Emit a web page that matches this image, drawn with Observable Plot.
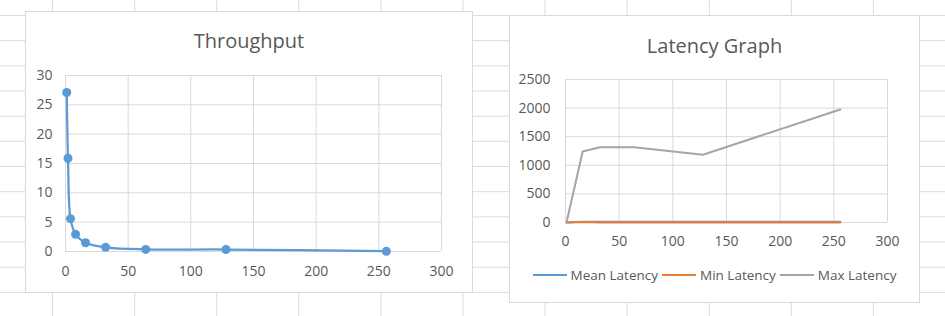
<!DOCTYPE html>
<html>
<head>
<meta charset="utf-8">
<script src="https://cdn.jsdelivr.net/npm/d3@7"></script>
<script src="https://cdn.jsdelivr.net/npm/@observablehq/plot@0.6"></script>
<style>
  html, body { margin: 0; padding: 0; background: #fff; }
  #page {
    position: relative; width: 945px; height: 316px; overflow: hidden;
    background-color: #fff;
    background-image:
      linear-gradient(to right, #dadada 1px, transparent 1px),
      linear-gradient(to bottom, #dadada 1px, transparent 1px);
    background-size: 82.1px 25.18px;
    background-position: 52px 15px;
    font-family: "Open Sans", sans-serif;
    color: #595959;
  }
  .box { position: absolute; background: #fff; border: 1px solid #d9d9d9; box-sizing: border-box; }
  .title { position: absolute; left: 0; right: 0; text-align: center; font-size: 20px; color: #595959; white-space: nowrap; }
  .plot { position: absolute; }
  .legend { position: absolute; left: 0; right: 0; display: flex; justify-content: center; align-items: center; font-size: 13.5px; color: #595959; white-space: nowrap; }
  .legend .item { display: flex; align-items: center; margin: 0 2px; }
  .legend .sw { width: 34px; height: 2px; margin-right: 4px; }
</style>
</head>
<body>
<div id="page">
  <div class="box" id="box1" style="left:25px; top:11px; width:448px; height:282px;">
    <div class="title" style="top:15px;">Throughput</div>
  </div>
  <div class="box" id="box2" style="left:509px; top:15px; width:411px; height:288px;">
    <div class="title" style="top:16px;">Latency Graph</div>
    <div class="legend" id="legend" style="top:250px;"></div>
  </div>
  <div class="plot" id="plot1" style="left:26px; top:56px;"></div>
  <div class="plot" id="plot2" style="left:510px; top:60px;"></div>
</div>
<script>
// ---- Data ----
const threads = [1, 2, 4, 8, 16, 32, 64, 128, 256];
const throughput = [27.1, 15.9, 5.6, 2.95, 1.5, 0.72, 0.36, 0.34, 0.05];

const latencyThreads = [1, 16, 32, 64, 128, 256];
const meanLatency = [1, 12, 11, 12, 12, 13];
const minLatency = [0.5, 10, 1, 1, 1, 1];
const maxLatency = [5, 1240, 1315, 1315, 1185, 1975];

const seriesNames = ["Mean Latency", "Min Latency", "Max Latency"];
const seriesColors = ["#5B9BD5", "#ED7D31", "#A5A5A5"];

const xTicks = [0, 50, 100, 150, 200, 250, 300];
const yTicksThroughput = [0, 5, 10, 15, 20, 25, 30];
const yTicksLatency = [0, 500, 1000, 1500, 2000, 2500];

// ---- Tables ----
const tpData = threads.map((t, i) => ({x: t, y: throughput[i]}));
const latSeries = [meanLatency, minLatency, maxLatency];
const latData = latSeries.flatMap((vals, s) =>
  latencyThreads.map((t, i) => ({x: t, y: vals[i], series: seriesNames[s]})));

const baseStyle = {fontFamily: "'Open Sans', sans-serif", fontSize: "14px", color: "#595959", background: "transparent", overflow: "visible"};
const gridStyle = {stroke: "#d9d9d9", strokeOpacity: 1, strokeWidth: 1};
const fmt = d => String(d);

const p1 = Plot.plot({
  width: 440, height: 230,
  marginLeft: 39, marginRight: 25, marginTop: 19, marginBottom: 35,
  style: baseStyle,
  x: {domain: [0, 300]},
  y: {domain: [0, 30]},
  marks: [
    Plot.gridX(xTicks, gridStyle),
    Plot.gridY(yTicksThroughput, gridStyle),
    Plot.axisX(xTicks, {tickSize: 0, tickPadding: 15, label: null, tickFormat: fmt}),
    Plot.axisY(yTicksThroughput, {tickSize: 0, tickPadding: 13, label: null, tickFormat: fmt}),
    Plot.line(tpData, {x: "x", y: "y", stroke: "#5B9BD5", strokeWidth: 2.25, curve: "catmull-rom"}),
    Plot.dot(tpData, {x: "x", y: "y", r: 4.5, fill: "#5B9BD5", stroke: "none"})
  ]
});
document.getElementById("plot1").appendChild(p1);

const p2 = Plot.plot({
  width: 405, height: 190,
  marginLeft: 55, marginRight: 28, marginTop: 19, marginBottom: 28,
  style: baseStyle,
  x: {domain: [0, 300]},
  y: {domain: [0, 2500]},
  color: {domain: seriesNames, range: seriesColors},
  marks: [
    Plot.gridX(xTicks, gridStyle),
    Plot.gridY(yTicksLatency, gridStyle),
    Plot.axisX(xTicks, {tickSize: 0, tickPadding: 14, label: null, tickFormat: fmt}),
    Plot.axisY(yTicksLatency, {tickSize: 0, tickPadding: 15, label: null, tickFormat: fmt}),
    Plot.line(latData, {x: "x", y: "y", z: "series", stroke: "series", strokeWidth: 2})
  ]
});
document.getElementById("plot2").appendChild(p2);

// ---- Legend ----
const legend = document.getElementById("legend");
seriesNames.forEach((name, i) => {
  const item = document.createElement("div");
  item.className = "item";
  const sw = document.createElement("div");
  sw.className = "sw";
  sw.style.background = seriesColors[i];
  const label = document.createElement("span");
  label.textContent = name;
  item.appendChild(sw);
  item.appendChild(label);
  legend.appendChild(item);
});
</script>
</body>
</html>
